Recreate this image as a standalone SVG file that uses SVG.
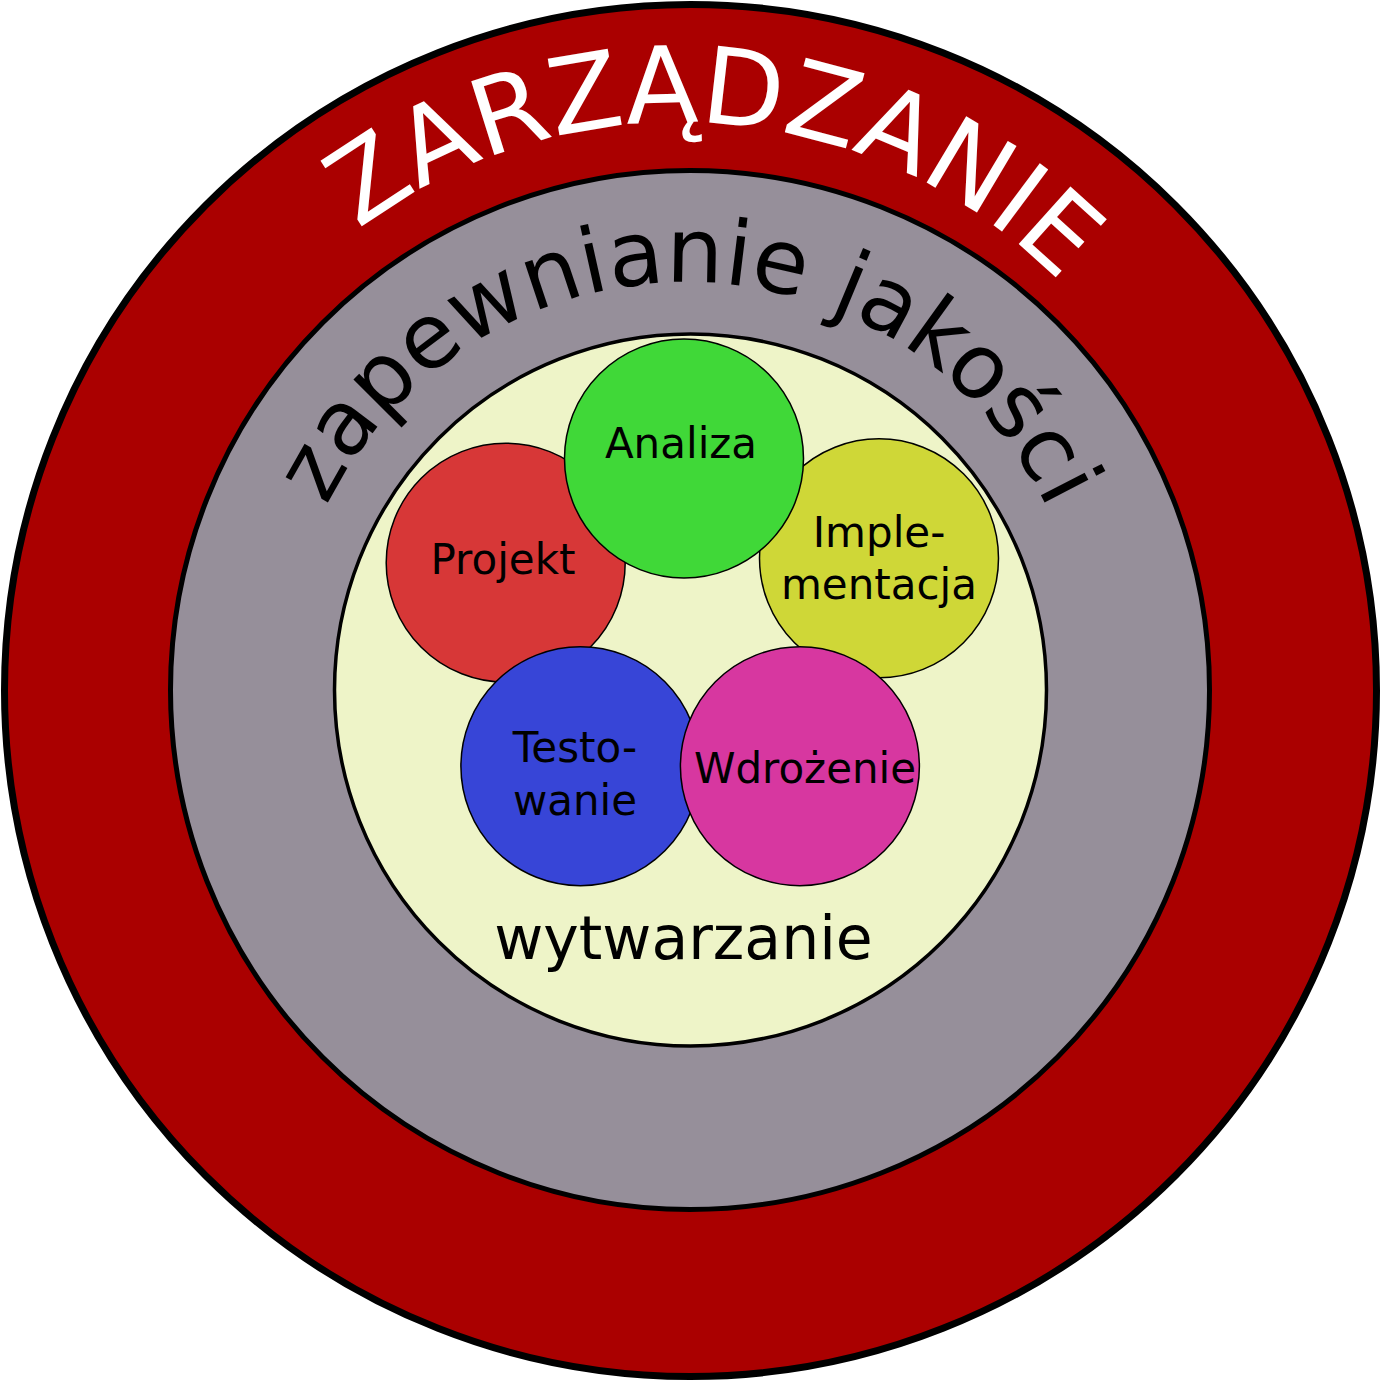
<svg xmlns="http://www.w3.org/2000/svg" xmlns:xlink="http://www.w3.org/1999/xlink" width="1381" height="1381" viewBox="0 0 1381 1381">
  <style>
    text { font-family: "DejaVu Sans", "Bitstream Vera Sans", "Liberation Sans", sans-serif; }
    .ring { stroke: #000; }
    .node { stroke: #000; stroke-width: 1.5; }
    .lbl { font-size: 42px; fill: #000; text-anchor: middle; }
  </style>
  <defs>
    <path id="arcOuter" d="M 146.2 655.3 A 533 533 0 0 1 1212.2 655.3"/>
    <path id="arcMid" d="M 285.5 683 A 401 401 0 0 1 1087.5 683"/>
  </defs>
  <rect width="1381" height="1381" fill="#ffffff"/>

  <g id="zarzadzanie">
    <circle class="ring" cx="690.5" cy="690.5" r="686" fill="#aa0000" stroke-width="7"/>
    <text font-size="106" fill="#ffffff" text-anchor="middle"><textPath xlink:href="#arcOuter" href="#arcOuter" startOffset="877">ZARZĄDZANIE</textPath></text>
  </g>

  <g id="zapewnianie-jakosci">
    <circle class="ring" cx="690" cy="690" r="519.5" fill="#968f9a" stroke-width="5"/>
    <text font-size="90" fill="#000000" text-anchor="middle"><textPath xlink:href="#arcMid" href="#arcMid" startOffset="632">zapewnianie jakości</textPath></text>
  </g>

  <g id="wytwarzanie">
    <circle class="ring" cx="690.5" cy="690" r="356" fill="#eef4c8" stroke-width="3.5"/>
    <text x="683.5" y="959" font-size="60" text-anchor="middle" fill="#000">wytwarzanie</text>
  </g>

  <g id="projekt">
    <circle class="node" cx="505.7" cy="562.7" r="119.5" fill="#d73737"/>
    <text class="lbl" x="503" y="574">Projekt</text>
  </g>

  <g id="implementacja">
    <circle class="node" cx="879" cy="558.3" r="119.5" fill="#cfd737"/>
    <text class="lbl" x="879" y="547">Imple-</text>
    <text class="lbl" x="879" y="599">mentacja</text>
  </g>

  <g id="analiza">
    <circle class="node" cx="684" cy="458.5" r="119.5" fill="#40d838"/>
    <text class="lbl" x="681" y="458">Analiza</text>
  </g>

  <g id="testowanie">
    <circle class="node" cx="580.4" cy="766.2" r="119.5" fill="#3745d7"/>
    <text class="lbl" x="575" y="762">Testo-</text>
    <text class="lbl" x="575" y="814.5">wanie</text>
  </g>

  <g id="wdrozenie">
    <circle class="node" cx="799.9" cy="766.2" r="119.5" fill="#d737a0"/>
    <text class="lbl" x="805" y="782.5">Wdrożenie</text>
  </g>

  <g id="connectors"/>
</svg>
